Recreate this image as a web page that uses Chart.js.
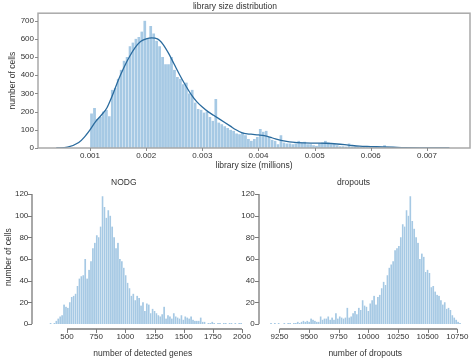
<!DOCTYPE html>
<html><head><meta charset="utf-8">
<script src="https://cdn.jsdelivr.net/npm/chart.js@4.4.0/dist/chart.umd.min.js"></script>
<style>
html,body{margin:0;padding:0;background:#fff;width:474px;height:363px;overflow:hidden;position:relative}
canvas{position:absolute;display:block}
</style></head><body>
<canvas id="top" width="474" height="176" style="left:0;top:0"></canvas>
<canvas id="bl" width="256" height="187" style="left:0;top:176px"></canvas>
<canvas id="br" width="237" height="187" style="left:237px;top:176px"></canvas>
<script>
// ---------- data: library size ----------
const libBinStart = 0.001;
const libBinWidth = 0.0000527;
const libCounts = [190,220,160,170,200,210,175,320,330,380,430,480,500,560,580,600,610,640,700,600,
  670,630,590,560,500,460,460,500,430,390,380,350,360,300,320,250,215,210,195,200,
  170,150,270,140,130,120,110,100,95,80,75,85,70,50,40,50,60,105,90,95,
  60,45,40,20,70,30,25,25,20,25,40,30,35,20,20,15,12,25,30,40,
  30,20,20,15,10,10,8,25,8,8,5,8,5,5,8,10,10,8,5,15,5];
const kdeX = [0.0004,0.0006,0.0008,0.0009,0.0010,0.0011,0.0012,0.0013,0.0014,0.0015,0.0016,0.0017,0.0018,0.0019,0.0020,0.0021,0.0022,0.0023,0.0024,0.0025,0.0026,0.0027,0.0028,0.0029,0.0030,0.0031,0.0032,0.0033,0.0034,0.0035,0.0036,0.0037,0.0038,0.0039,0.0040,0.0041,0.0042,0.0043,0.0044,0.0045,0.0046,0.0048,0.0050,0.0052,0.0054,0.0056,0.0058,0.0060,0.0062,0.0064,0.0066,0.0070,0.0074];
const kdeY = [0,5,30,60,100,145,180,220,290,370,440,500,550,585,600,605,600,570,520,460,400,345,295,255,225,200,180,160,140,120,100,85,78,75,72,68,60,50,42,36,32,28,27,26,22,16,10,8,6,4,2,1,0];
const libXTicks = [0.001,0.002,0.003,0.004,0.005,0.006,0.007];
const libYTicks = [0,100,200,300,400,500,600,700];

// ---------- data: NODG ----------
const nodgBinStart = 350;
const nodgBinWidth = 16.5;
const nodgCounts = [1,0,1,3,5,7,8,18,16,15,20,25,26,28,35,42,44,45,60,42,
  50,58,70,75,82,80,90,118,108,98,105,100,90,80,70,75,60,58,52,45,
  38,33,26,28,22,26,24,17,20,12,19,18,10,14,12,10,8,7,9,16,
  5,8,7,5,10,7,6,5,8,4,7,6,5,7,4,3,3,3,6,2,
  2,0,1,1,2,1,0,1,1,0,1,1,0,1,1,0,1,0,1,1];
const nodgXTicks = [500,750,1000,1250,1500,1750,2000];

// ---------- data: dropouts ----------
const dropBinStart = 9170;
const dropBinWidth = 16.1;
const dropCounts = [1,0,1,0,1,0,0,1,0,1,1,0,1,1,2,1,2,3,2,3,
  2,5,4,3,2,2,7,4,5,5,7,4,6,4,10,5,7,6,5,6,
  15,6,7,10,12,9,15,13,22,17,16,12,19,22,26,18,25,27,33,39,
  36,45,52,55,58,68,70,72,80,92,90,105,100,118,95,88,80,75,60,65,
  62,48,50,47,34,35,30,27,26,22,18,20,14,15,13,8,6,4,2,1];
const dropXTicks = [9250,9500,9750,10000,10250,10500,10750];
const cellYTicks = [0,20,40,60,80,100,120];

// ---------- helpers ----------
const FONT = "'Liberation Sans', Arial, sans-serif";
const TXT = '#333';
const BAR = 'rgb(166,201,228)';
function bins(start, width, counts){ return counts.map((c,i)=>({x:start+width*(i+0.5), y:c})); }
function pts(xs, ys){ return xs.map((v,i)=>({x:v, y:ys[i]})); }

const axisLines = {
  id:'axisLines',
  afterDraw(chart, args, o){
    const {ctx, chartArea:a, scales:{x,y}} = chart;
    ctx.save();
    ctx.strokeStyle = o.color; ctx.lineWidth = o.width; ctx.lineCap='butt';
    const xt = x.ticks.map(t=>t.value), yt = y.ticks.map(t=>t.value);
    let xl, yl;
    if (o.box){
      ctx.strokeRect(a.left, a.top, a.width, a.height);
      xl = a.bottom; yl = a.left;
    } else {
      xl = a.bottom + o.xOff; yl = a.left - o.yOff;
      ctx.beginPath();
      ctx.moveTo(x.getPixelForValue(xt[0]), xl); ctx.lineTo(x.getPixelForValue(xt[xt.length-1]), xl);
      ctx.moveTo(yl, y.getPixelForValue(yt[0])); ctx.lineTo(yl, y.getPixelForValue(yt[yt.length-1]));
      ctx.stroke();
    }
    ctx.strokeStyle = o.tickColor; ctx.lineWidth = 1;
    ctx.beginPath();
    xt.forEach(v=>{ const p=Math.round(x.getPixelForValue(v))+0.5; ctx.moveTo(p, xl); ctx.lineTo(p, xl+o.tick); });
    yt.forEach(v=>{ const p=Math.round(y.getPixelForValue(v))+0.5; ctx.moveTo(yl, p); ctx.lineTo(yl-o.tick, p); });
    ctx.stroke();
    ctx.restore();
  }
};

function make(id, o){
  return new Chart(document.getElementById(id), {
    type:'bar',
    data:{datasets:o.datasets},
    options:{
      responsive:false, animation:false, devicePixelRatio:1,
      layout:{padding:o.pad},
      plugins:{
        legend:{display:false}, tooltip:{enabled:false},
        title:{display:true, text:o.title, color:TXT, font:{family:FONT,size:8.5,weight:'normal',lineHeight:1.2}, padding:o.titlePad},
        axisLines:o.axis
      },
      scales:{
        x:{type:'linear', offset:false, min:o.xmin, max:o.xmax,
           afterBuildTicks:s=>{s.ticks=o.xticks.map(v=>({value:v}));},
           afterFit:s=>{s.height=o.xh;},
           grid:{display:false, drawTicks:true, tickLength:o.xtl}, border:{display:false},
           ticks:{padding:o.xtp, maxRotation:0, autoSkip:false, color:TXT, font:{family:FONT,size:8,lineHeight:1.2}, callback:v=>String(v)},
           title:{display:true, text:o.xlabel, color:TXT, font:{family:FONT,size:8.5,lineHeight:1.2}, padding:{top:0,bottom:o.xtitlePad}}},
        y:{min:0, max:o.ymax,
           afterBuildTicks:s=>{s.ticks=o.yticks.map(v=>({value:v}));},
           afterFit:s=>{s.width=o.yw;},
           grid:{display:false, drawTicks:true, tickLength:o.ytl}, border:{display:false},
           ticks:{padding:o.ytp, autoSkip:false, color:TXT, font:{family:FONT,size:8,lineHeight:1.2}, callback:v=>String(v)},
           title:{display:!!o.ylabel, text:o.ylabel||'', color:TXT, font:{family:FONT,size:8.5,lineHeight:1.2}, padding:{top:o.ytitlePad||0,bottom:0}}}
      }
    },
    plugins:[axisLines]
  });
}

const barDs = (d)=>({type:'bar', data:d, backgroundColor:BAR, borderColor:'rgba(255,255,255,0.3)', borderWidth:{left:0.5,right:0,top:0,bottom:0}, borderSkipped:false, barPercentage:1, categoryPercentage:1, order:2});

make('top', {
  title:'library size distribution', titlePad:{top:2,bottom:1},
  pad:{left:0,right:4,top:0,bottom:0},
  datasets:[
    {type:'line', data:pts(kdeX,kdeY), borderColor:'#2a6b9e', borderWidth:1.3, pointRadius:0, tension:0.4, cubicInterpolationMode:'monotone', order:1},
    barDs(bins(libBinStart, libBinWidth, libCounts))
  ],
  xmin:0.0000743, xmax:0.007766, xticks:libXTicks, xh:28, xtl:3, xtp:0, xlabel:'library size (millions)', xtitlePad:5,
  ymax:741, yticks:libYTicks, yw:38, ytl:3, ytp:1, ylabel:'number of cells', ytitlePad:8,
  axis:{box:true, color:'#a9a9a9', width:1.5, tickColor:'#8a8a8a', tick:3}
});

make('bl', {
  title:'NODG', titlePad:{top:2,bottom:2},
  pad:{left:0,right:8.5,top:0,bottom:0},
  datasets:[barDs(bins(nodgBinStart, nodgBinWidth, nodgCounts))],
  xmin:251, xmax:2047, xticks:nodgXTicks, xh:39, xtl:4, xtp:4.2, xlabel:'number of detected genes', xtitlePad:3.9,
  ymax:123.5, yticks:cellYTicks, yw:38, ytl:4, ytp:5.7, ylabel:'number of cells', ytitlePad:3.2,
  axis:{box:false, color:'#7a7a7a', width:1.3, tickColor:'#7a7a7a', tick:4, xOff:5, yOff:6}
});

make('br', {
  title:'dropouts', titlePad:{top:2,bottom:2},
  pad:{left:0,right:4,top:0,bottom:0},
  datasets:[barDs(bins(dropBinStart, dropBinWidth, dropCounts))],
  xmin:9090, xmax:10857, xticks:dropXTicks, xh:39, xtl:4, xtp:4.2, xlabel:'number of dropouts', xtitlePad:3.9,
  ymax:123.5, yticks:cellYTicks, yw:23.5, ytl:4, ytp:1.8,
  axis:{box:false, color:'#7a7a7a', width:1.3, tickColor:'#7a7a7a', tick:4, xOff:5, yOff:1.5}
});
</script>
</body></html>
